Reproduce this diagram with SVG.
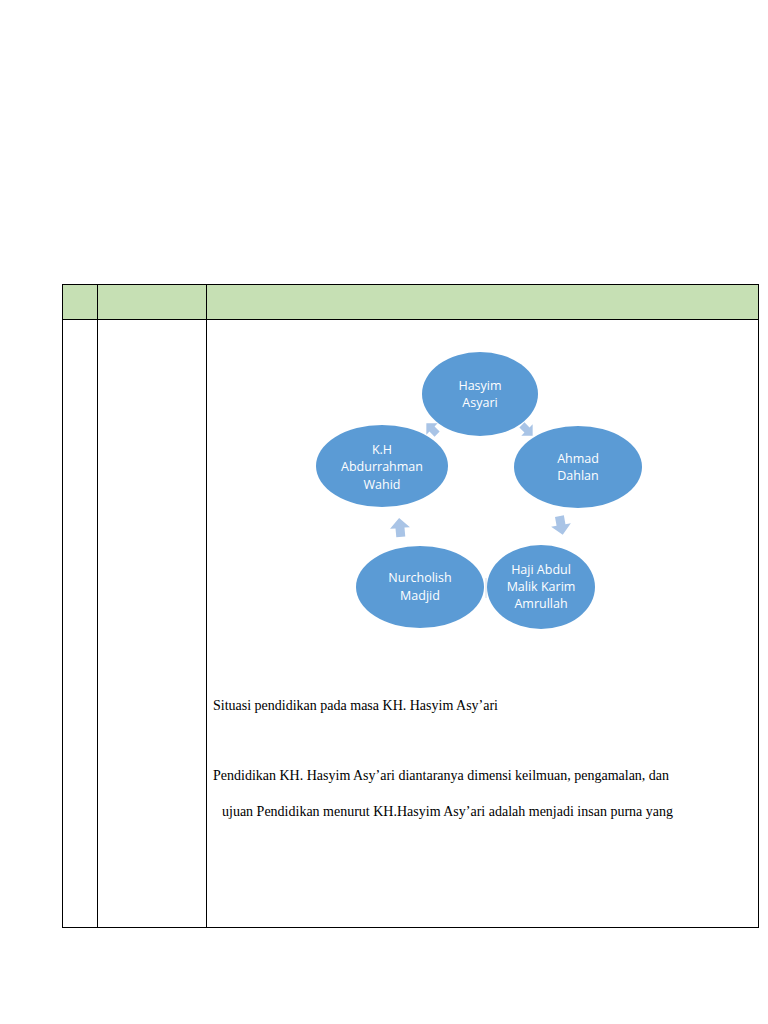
<svg xmlns="http://www.w3.org/2000/svg" width="768" height="1024" viewBox="0 0 768 1024">
<style>
.n{fill:#5b9bd5}
.t{font-family:"Open Sans","Liberation Sans",sans-serif;font-size:12.5px;fill:#fff;text-anchor:middle}
.a{fill:#a9c4e6}
.b{font-family:"Liberation Serif",serif;font-size:14px;fill:#000}
.l{stroke:#000;stroke-width:1;fill:none}
</style>
<rect width="768" height="1024" fill="#fff"/>
<rect x="62.5" y="284.5" width="696" height="35" fill="#c6e0b4"/>
<rect x="62.5" y="284.5" width="696" height="643" class="l"/>
<line x1="62.5" y1="319.5" x2="758.5" y2="319.5" class="l"/>
<line x1="97.5" y1="284.5" x2="97.5" y2="927.5" class="l"/>
<line x1="206.5" y1="284.5" x2="206.5" y2="927.5" class="l"/>
<defs><polygon id="arr" points="-9,-4.5 0,-4.5 0,-10 10,0 0,10 0,4.5 -9,4.5"/></defs>
<g id="connectors">
<use href="#arr" class="a" transform="translate(527,430) rotate(45) scale(0.8)"/>
<use href="#arr" class="a" transform="translate(561,525) rotate(80)"/>
<line x1="486" y1="578" x2="486" y2="598" stroke="#d0dbe8" stroke-width="1"/>
<use href="#arr" class="a" transform="translate(400,528) rotate(-95)"/>
<use href="#arr" class="a" transform="translate(432,429) rotate(-135) scale(0.8)"/>
</g>
<g id="n1"><ellipse class="n" cx="480" cy="394" rx="58" ry="42"/><text class="t" x="480" y="390">Hasyim</text><text class="t" x="480" y="407">Asyari</text></g>
<g id="n2"><ellipse class="n" cx="578" cy="467" rx="64" ry="41"/><text class="t" x="578" y="463">Ahmad</text><text class="t" x="578" y="480">Dahlan</text></g>
<g id="n3"><ellipse class="n" cx="541" cy="587" rx="54" ry="42"/><text class="t" x="541" y="574">Haji Abdul</text><text class="t" x="541" y="591">Malik Karim</text><text class="t" x="541" y="608">Amrullah</text></g>
<g id="n4"><ellipse class="n" cx="420" cy="587" rx="64" ry="41"/><text class="t" x="420" y="582">Nurcholish</text><text class="t" x="420" y="600">Madjid</text></g>
<g id="n5"><ellipse class="n" cx="382" cy="466" rx="66" ry="41"/><text class="t" x="382" y="454">K.H</text><text class="t" x="382" y="471">Abdurrahman</text><text class="t" x="382" y="489">Wahid</text></g>
<text class="b" x="213" y="710">Situasi pendidikan pada masa KH. Hasyim Asy’ari</text>
<text class="b" x="213" y="780">Pendidikan KH. Hasyim Asy’ari diantaranya dimensi keilmuan, pengamalan, dan</text>
<text class="b" x="222" y="816">ujuan Pendidikan menurut KH.Hasyim Asy’ari adalah menjadi insan purna yang</text>
</svg>
